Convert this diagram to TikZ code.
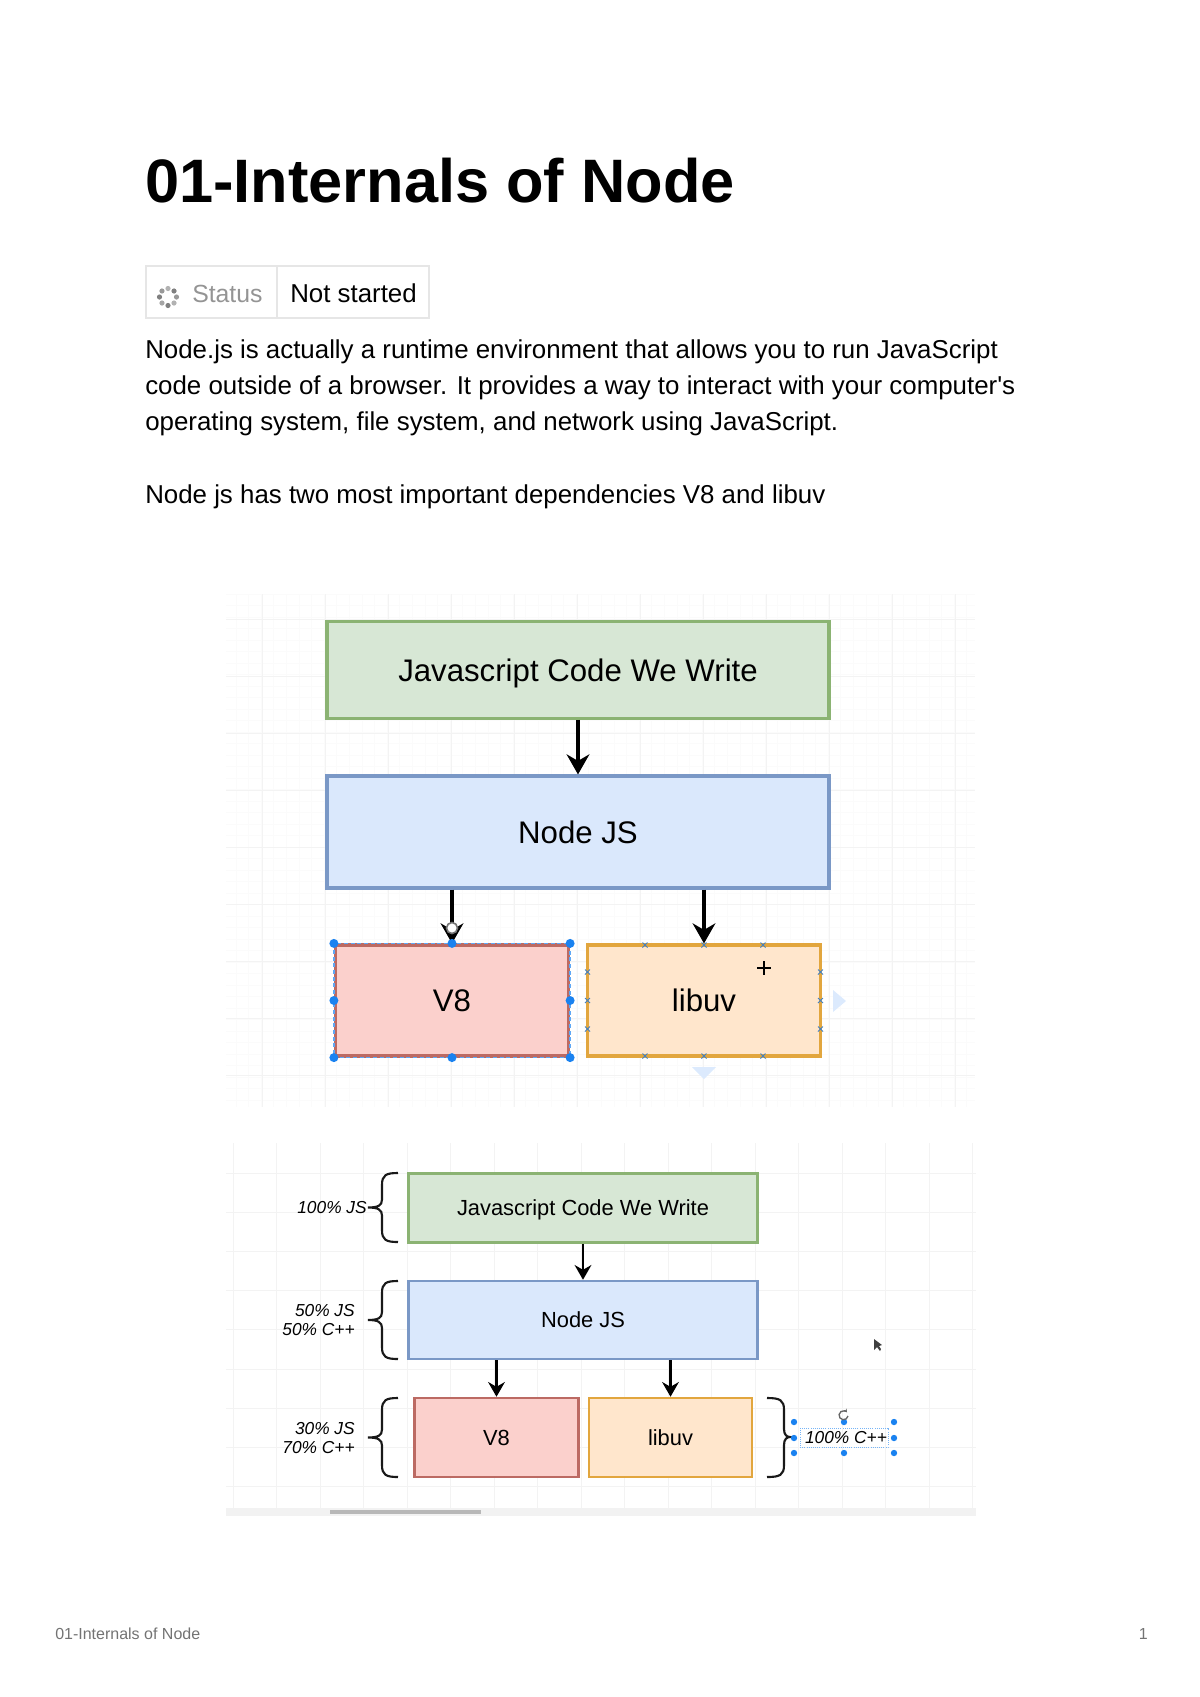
\documentclass[tikz,border=0pt]{standalone}
\usepackage{fontspec}
\setmainfont{Liberation Sans}
\usepackage{xcolor}
\usetikzlibrary{calc, arrows.meta}

\definecolor{gridgray}{HTML}{F3F3F3}
\definecolor{gridfine}{HTML}{FBFBFB}
\definecolor{handleblue}{HTML}{1A82F0}
\definecolor{ghostblue}{HTML}{DCEAFD}
\definecolor{tablegray}{HTML}{E6E6E6}
\definecolor{jsline}{HTML}{8BB373}
\definecolor{jsfill}{HTML}{D7E7D5}
\definecolor{ndline}{HTML}{7A98C6}
\definecolor{ndfill}{HTML}{DAE8FC}
\definecolor{vline}{HTML}{BC6A63}
\definecolor{vfill}{HTML}{FBD0CC}
\definecolor{uvline}{HTML}{E2A63E}
\definecolor{uvfill}{HTML}{FFE6CC}

\tikzset{
  sized/.style 2 args={minimum width=#1*0.75pt, minimum height=#2*0.75pt},
  bigbox/.style={rectangle, inner sep=0pt, line width=2.4pt, text depth=0pt, font=\fontsize{23.4}{28}\selectfont},
  smallbox/.style={rectangle, inner sep=0pt, line width=1.9pt, text depth=0pt, font=\fontsize{16.4}{20}\selectfont},
  jsbox/.style={draw=jsline, fill=jsfill},
  nodebox/.style={draw=ndline, fill=ndfill},
  vbox/.style={draw=vline, fill=vfill},
  uvbox/.style={draw=uvline, fill=uvfill},
  bigflow/.style={-{Stealth[length=15pt, width=17pt]}, line width=3pt, black},
  smallflow/.style={-{Stealth[length=11pt, width=12.5pt]}, line width=2.2pt, black},
  handle/.style={fill=handleblue},
  brace/.style={line width=1.6pt, black!90},
  pctlabel/.style={inner sep=0pt, align=right, font=\fontsize{13}{14.5}\selectfont\itshape},
  bodyline/.style={anchor=base west, inner sep=0pt, font=\fontsize{19.4}{23}\selectfont},
}

\begin{document}
\begin{tikzpicture}[x=0.75pt, y=-0.75pt]
\useasboundingbox (0,0) rectangle (1200,1697);

% Drawing the title and the status table:
\node[anchor=base west, inner sep=0pt, font=\fontsize{46}{52}\bfseries\selectfont] (title) at (145,202) {01-Internals of Node};
\draw[tablegray, line width=1.2pt] (146,266) rectangle (429,318);
\draw[tablegray, line width=1.2pt] (277,266) -- (277,318);
\foreach \ang/\shade in {0/40,45/30,90/50,135/35,180/50,225/40,270/30,315/50}
  \fill[black!\shade] (168,297) ++(\ang:8.5) circle (2.6);
\node[anchor=base west, inner sep=0pt, text=black!42, font=\fontsize{18.6}{22}\selectfont] (status) at (192,302) {Status};
\node[anchor=base west, inner sep=0pt, font=\fontsize{19.4}{22}\selectfont] (notstarted) at (290,302) {Not started};

% Writing the paragraphs:
\node[bodyline] (lineA) at (145,358) {Node.js is actually a runtime environment that allows you to run JavaScript};
\node[bodyline] (lineB) at (145,394) {code outside of a browser. It provides a way to interact with your computer\textquotesingle s};
\node[bodyline] (lineC) at (145,430.5) {operating system, file system, and network using JavaScript.};
\node[bodyline] (lineD) at (145,503.5) {Node js has two most important dependencies V8 and libuv};

% Drawing the grid of the first diagram:
\foreach \gx in {0,...,58}
  \draw[gridfine, line width=0.5pt] ({236+12.6*\gx},594) -- ({236+12.6*\gx},1107);
\foreach \gy in {0,...,44}
  \draw[gridfine, line width=0.5pt] (226,{594+11.5*\gy}) -- (975,{594+11.5*\gy});
\foreach \gx in {0,...,11}
  \draw[gridgray, line width=0.7pt] ({262+63*\gx},594) -- ({262+63*\gx},1107);
\foreach \gy in {0,...,8}
  \draw[gridgray, line width=0.7pt] (226,{619+57*\gy}) -- (975,{619+57*\gy});

% Drawing the boxes of the first diagram:
\node[bigbox, jsbox, sized={502}{96.5}] (jscode) at (578,670) {Javascript Code We Write};
\node[bigbox, nodebox, sized={502}{112}] (nodejs) at (578,832) {Node JS};
\node[bigbox, vbox, sized={233}{111}] (veight) at (452,1000.5) {V8};
\node[bigbox, uvbox, sized={233}{111}] (libuv) at (704,1000.5) {libuv};

% Drawing the arrows of the first diagram:
\draw[bigflow] (jscode.south) -- (nodejs.north);
\draw[bigflow] (nodejs.south -| veight.north) -- (veight.north);
\draw[bigflow] (nodejs.south -| libuv.north) -- (libuv.north);

% Drawing the selection on V8:
\draw[handleblue!70, line width=1pt, densely dashed] (veight.north west) rectangle (veight.south east);
\foreach \anc in {north west,north,north east,west,east,south west,south,south east}
  \fill[handle] (veight.\anc) circle (4.5);

% Drawing the small marks on libuv:
\foreach \mx/\my in {645/945,704/945,763/945,645/1056,704/1056,763/1056,587.5/972,587.5/1000.5,587.5/1029,820.5/972,820.5/1000.5,820.5/1029}
  \draw[handleblue!60!gray, line width=0.7pt] (\mx-2.5,\my-2.5) -- (\mx+2.5,\my+2.5) (\mx-2.5,\my+2.5) -- (\mx+2.5,\my-2.5);

% Drawing the pale triangles and the cursors:
\fill[ghostblue] (833,990) -- (846,1001) -- (833,1012) -- cycle;
\fill[ghostblue] (692,1067) -- (716,1067) -- (704,1079) -- cycle;
\draw[black!55, fill=white, line width=1.2pt] (452,928) circle (5.5);
\draw[black, line width=1.2pt] (764,961) -- (764,975) (757,968) -- (771,968);

% Drawing the grid of the second diagram:
\foreach \gx in {0,...,17}
  \draw[gridgray, line width=0.7pt] ({233+43.5*\gx},1143) -- ({233+43.5*\gx},1508);
\foreach \gy in {0,...,8}
  \draw[gridgray, line width=0.7pt] (226,{1173+39.2*\gy}) -- (976,{1173+39.2*\gy});

% Drawing the boxes of the second diagram:
\node[smallbox, jsbox, sized={349}{69}] (jscodeB) at (583,1208) {Javascript Code We Write};
\node[smallbox, nodebox, sized={349}{78}] (nodejsB) at (583,1320) {Node JS};
\node[smallbox, vbox, sized={164}{79}] (veightB) at (496.5,1437.5) {V8};
\node[smallbox, uvbox, sized={163}{79}] (libuvB) at (670.5,1437.5) {libuv};

% Drawing the arrows of the second diagram:
\draw[smallflow] (jscodeB.south) -- (nodejsB.north);
\draw[smallflow] (nodejsB.south -| veightB.north) -- (veightB.north);
\draw[smallflow] (nodejsB.south -| libuvB.north) -- (libuvB.north);

% Drawing the braces:
\foreach \name/\top/\bot in {jscodeB/1173/1242,nodejsB/1281/1359,veightB/1398/1477} {
  \coordinate (tip\name) at (368,{(\top+\bot)/2});
  \draw[brace] (398,\top) .. controls (386,\top) and (382,\top+2) .. (382,\top+12)
    -- (382,{(\top+\bot)/2-8}) .. controls (382,{(\top+\bot)/2-2}) and (378,{(\top+\bot)/2}) .. (tip\name)
    .. controls (378,{(\top+\bot)/2}) and (382,{(\top+\bot)/2+2}) .. (382,{(\top+\bot)/2+8})
    -- (382,\bot-12) .. controls (382,\bot-2) and (386,\bot) .. (398,\bot);
}
\coordinate (tipright) at (790,1437);
\draw[brace] (767,1398) .. controls (780,1398) and (784,1400) .. (784,1410)
  -- (784,1429) .. controls (784,1435) and (787,1437) .. (tipright)
  .. controls (787,1437) and (784,1439) .. (784,1445)
  -- (784,1465) .. controls (784,1475) and (780,1477) .. (767,1477);

% Writing the percentages:
\node[pctlabel, anchor=east] (pctA) at (367,1208) {100\% JS};
\node[pctlabel, anchor=east] (pctB) at (355,1320) {50\% JS\\50\% C++};
\node[pctlabel, anchor=east] (pctC) at (355,1438) {30\% JS\\70\% C++};
\node[pctlabel, anchor=center] (pctD) at (846,1438) {100\% C++};

% Drawing the selection around the last label:
\draw[handleblue!60, line width=0.6pt, densely dotted] (800,1428) rectangle (888,1447);
\foreach \hx in {794,844,894}
  \foreach \hy in {1422,1453}
    \fill[handle] (\hx,\hy) circle (3.2);
\fill[handle] (794,1438) circle (3.2);
\fill[handle] (894,1438) circle (3.2);
\draw[black!60, line width=1pt, -{Stealth[length=2.5pt, width=3pt]}] (848,1416) arc (10:320:4.5);

% Drawing the mouse arrow:
\fill[black!75] (874,1339) -- (874,1350) -- (877,1347) -- (880,1351) -- (881,1349) -- (879,1346) -- (882,1345) -- cycle;

% Drawing the scroll bar:
\fill[black!5] (226,1508) rectangle (976,1516);
\fill[black!28] (330,1510) rectangle (481,1514);

% Writing the footer:
\node[anchor=base west, inner sep=0pt, text=black!55, font=\fontsize{12}{14}\selectfont] (footleft) at (55,1639) {01-Internals of Node};
\node[anchor=base east, inner sep=0pt, text=black!55, font=\fontsize{12}{14}\selectfont] (footright) at (1148,1639) {1};
\end{tikzpicture}
\end{document}
